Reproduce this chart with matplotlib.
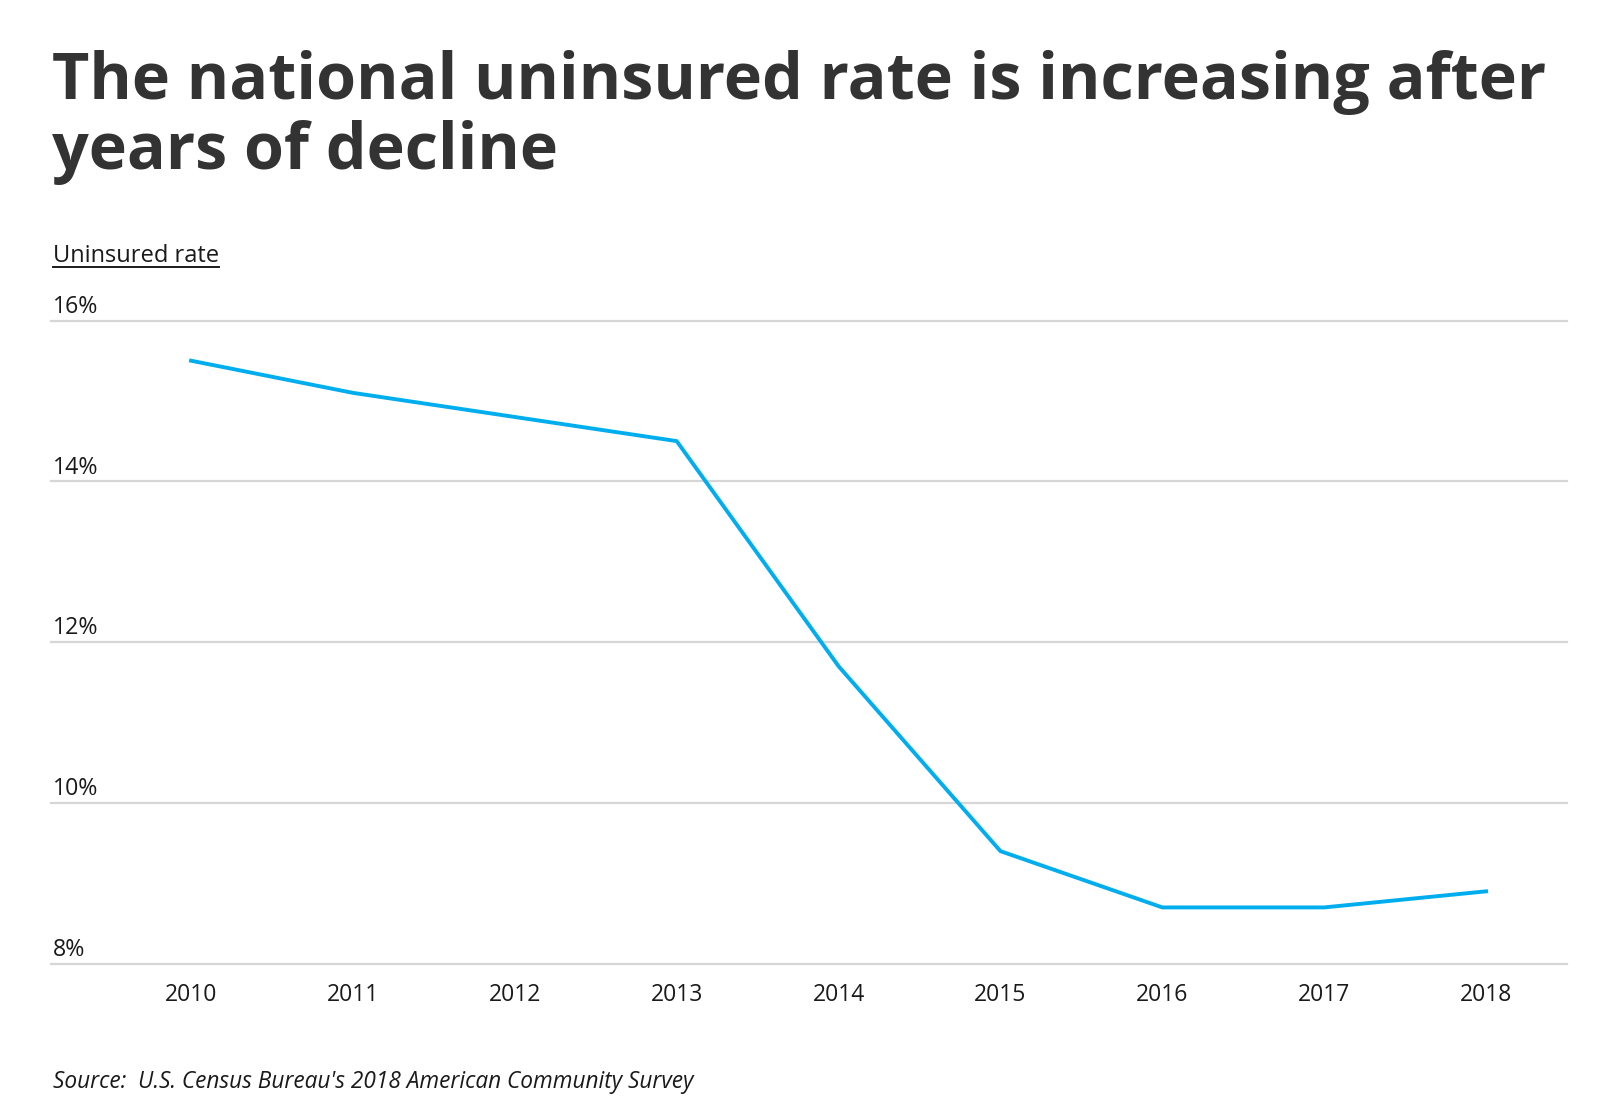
import matplotlib
matplotlib.use('Agg')
import matplotlib.pyplot as plt
from matplotlib.transforms import blended_transform_factory, offset_copy

years = [2010, 2011, 2012, 2013, 2014, 2015, 2016, 2017, 2018]
rate = [15.5, 15.1, 14.8, 14.5, 11.7, 9.4, 8.7, 8.7, 8.9]
y_ticks = [8, 10, 12, 14, 16]
y_labels = ['8%', '10%', '12%', '14%', '16%']

plt.rcParams['font.family'] = ['Open Sans', 'DejaVu Sans']

W, H = 1600, 1117
fig = plt.figure(figsize=(W / 100, H / 100), dpi=100)
ax = fig.add_axes([51 / W, 1 - 963.7 / H, (1567 - 51) / W, (963.7 - 320.5) / H])

ax.plot(years, rate, color='#00aeef', lw=2.8, zorder=3)

ax.set_xlim(2009.135, 2018.5)
ax.set_ylim(8, 16)
for v in y_ticks:
    ax.axhline(v, color='#d6d6d6', lw=1.6, clip_on=False, zorder=1)

for s in ax.spines.values():
    s.set_visible(False)
ax.set_yticks([])
ax.set_xticks(years)
ax.set_xticklabels([str(y) for y in years], fontsize=16.5, color='#1a1a1a')
ax.tick_params(axis='x', length=0, pad=14)

# y labels sit just above each gridline, flush left
tr = offset_copy(blended_transform_factory(ax.transAxes, ax.transData),
                 fig=fig, x=0, y=5.5, units='points')
for v, lab in zip(y_ticks, y_labels):
    ax.text(0.001, v, lab, transform=tr, fontsize=16.7, color='#1a1a1a',
            ha='left', va='baseline')

title_kw = dict(fontsize=46.5, fontweight='bold', color='#333333',
                ha='left', va='baseline')
fig.text(0.0325, 1 - 99 / H, 'The national uninsured rate is increasing after', **title_kw)
fig.text(0.0325, 1 - 169 / H, 'years of decline', **title_kw)

lab = fig.text(0.0332, 1 - 262 / H, 'Uninsured rate', fontsize=17,
               color='#1a1a1a', ha='left', va='baseline')
fig.canvas.draw()
bb = lab.get_window_extent().transformed(fig.transFigure.inverted())
uy = 1 - 267 / H
fig.add_artist(plt.Line2D([bb.x0, bb.x1], [uy, uy], color='#1a1a1a', lw=1.4,
                          transform=fig.transFigure))

fig.text(0.0332, 1 - 1088 / H,
         "Source:  U.S. Census Bureau's 2018 American Community Survey",
         fontsize=16.3, style='italic', color='#1a1a1a', ha='left', va='baseline')

fig.savefig('out.png', dpi=100, facecolor='white')
